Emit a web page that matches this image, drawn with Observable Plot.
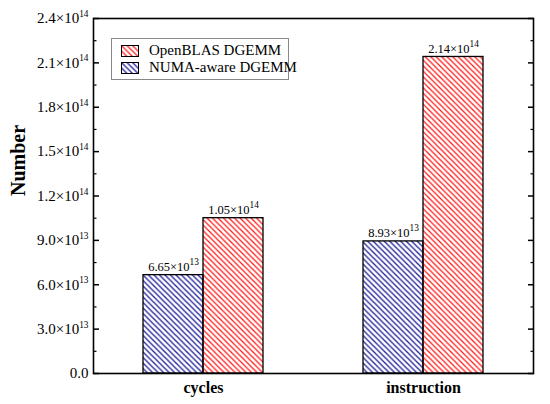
<!DOCTYPE html>
<html>
<head>
<meta charset="utf-8">
<script src="https://cdn.jsdelivr.net/npm/d3@7"></script>
<script src="https://cdn.jsdelivr.net/npm/@observablehq/plot@0.6"></script>
<style>
  body { margin: 0; padding: 0; background: #fff; }
  .wrap { position: relative; width: 550px; height: 404px; }
  .wrap svg text { font-family: "Liberation Serif", "Times New Roman", serif; }
  .legend {
    position: absolute; left: 111px; top: 38px; width: 176px; height: 40px;
    border: 1px solid #888; background: #fff; white-space: nowrap;
    font-family: "Liberation Serif", "Times New Roman", serif; font-size: 15px;
  }
  .legend .row { position: absolute; left: 9px; display: flex; align-items: center; }
  .legend svg { margin-right: 10px; }
</style>
</head>
<body>
<!-- hatch patterns -->
<svg width="0" height="0" style="position:absolute">
  <defs>
    <pattern id="hatchBlue" patternUnits="userSpaceOnUse" width="5.5" height="5.5">
      <path d="M0,0L5.5,5.5M-1,4.5L1,6.5M4.5,-1L6.5,1" stroke="#2a2a9c" stroke-width="1.4"/>
    </pattern>
    <pattern id="hatchRed" patternUnits="userSpaceOnUse" width="5.5" height="5.5">
      <path d="M0,0L5.5,5.5M-1,4.5L1,6.5M4.5,-1L6.5,1" stroke="#ff1f1f" stroke-width="1.3"/>
    </pattern>
  </defs>
</svg>

<div class="wrap" id="chart">
  <div class="legend">
    <div class="row" style="top:3px">
      <svg width="18" height="12"><rect x="0.5" y="0.5" width="17" height="11" fill="url(#hatchRed)" stroke="#000"/></svg>OpenBLAS DGEMM
    </div>
    <div class="row" style="top:20px">
      <svg width="18" height="12"><rect x="0.5" y="0.5" width="17" height="11" fill="url(#hatchBlue)" stroke="#000"/></svg>NUMA-aware DGEMM
    </div>
  </div>
</div>

<script>
  // data
  let categories = ["cycles", "instruction"]
  let numaValues = [6.65e13, 8.93e13]
  let openblasValues = [1.05e14, 2.14e14]
  let yTicks = [0, 3e13, 6e13, 9e13, 1.2e14, 1.5e14, 1.8e14, 2.1e14, 2.4e14]
  let yMinor = [1.5e13, 4.5e13, 7.5e13, 1.05e14, 1.35e14, 1.65e14, 1.95e14, 2.25e14]

  let numa = categories.map((c, i) => ({category: c, value: numaValues[i]}))
  let openblas = categories.map((c, i) => ({category: c, value: openblasValues[i]}))

  // "6.65×10^13" style, ^ turned into a superscript afterwards
  function sci(v, digits) {
    if (v === 0) return "0.0"
    let e = Math.floor(Math.log10(v))
    let m = v / Math.pow(10, e)
    return m.toFixed(digits) + "×10^" + e
  }

  let font = "Liberation Serif"

  let chart = Plot.plot({
    width: 550,
    height: 404,
    marginLeft: 93,
    marginRight: 17,
    marginTop: 18,
    marginBottom: 31,
    style: {fontFamily: font, background: "#fff", color: "#000"},
    x: {domain: categories, padding: 0, axis: null},
    y: {domain: [0, 2.4e14], axis: null},
    marks: [
      Plot.barY(numa, {x: "category", y: "value", fill: "url(#hatchBlue)", stroke: "#000", strokeWidth: 1.3, insetLeft: 50, insetRight: 110}),
      Plot.barY(openblas, {x: "category", y: "value", fill: "url(#hatchRed)", stroke: "#000", strokeWidth: 1.3, insetLeft: 110, insetRight: 50}),
      Plot.text(numa, {x: "category", y: "value", text: d => sci(d.value, 2), dx: -30, dy: -8, fontSize: 12.5, fontFamily: font}),
      Plot.text(openblas, {x: "category", y: "value", text: d => sci(d.value, 2), dx: 30, dy: -8, fontSize: 12.5, fontFamily: font}),
      // left axis: labels, inward major and minor ticks
      Plot.axisY({ticks: yTicks, tickSize: 0, tickPadding: 5, fontSize: 15, fontFamily: font, tickFormat: d => sci(d, 1), label: null}),
      Plot.axisY({ticks: yTicks, tickSize: -6, tickFormat: () => "", label: null, strokeWidth: 1.5}),
      Plot.axisY({ticks: yMinor, tickSize: -3.5, tickFormat: () => "", label: null, strokeWidth: 1.2}),
      // right axis ticks
      Plot.axisY({anchor: "right", ticks: yTicks, tickSize: -6, tickFormat: () => "", label: null, strokeWidth: 1.5}),
      Plot.axisY({anchor: "right", ticks: yMinor, tickSize: -3.5, tickFormat: () => "", label: null, strokeWidth: 1.2}),
      Plot.axisX({tickSize: 0, tickPadding: 8, fontSize: 16, fontFamily: font, fontWeight: "bold", label: null}),
      Plot.text(["Number"], {frameAnchor: "left", dx: -75, rotate: -90, fontSize: 20, fontFamily: font, fontWeight: "bold"}),
      Plot.frame({stroke: "#000", strokeWidth: 1.6})
    ]
  })

  // turn "×10^13" into a real superscript
  d3.select(chart).selectAll("text").each(function () {
    let t = this.textContent
    let m = /^(.*×10)\^(\d+)$/.exec(t)
    if (!m) return
    let size = parseFloat(this.getAttribute("font-size")) || 15
    this.textContent = m[1]
    d3.select(this).append("tspan")
      .attr("dy", -0.42 * size)
      .attr("font-size", size * 0.62)
      .text(m[2])
  })

  document.querySelector("#chart").prepend(chart)
</script>
</body>
</html>
